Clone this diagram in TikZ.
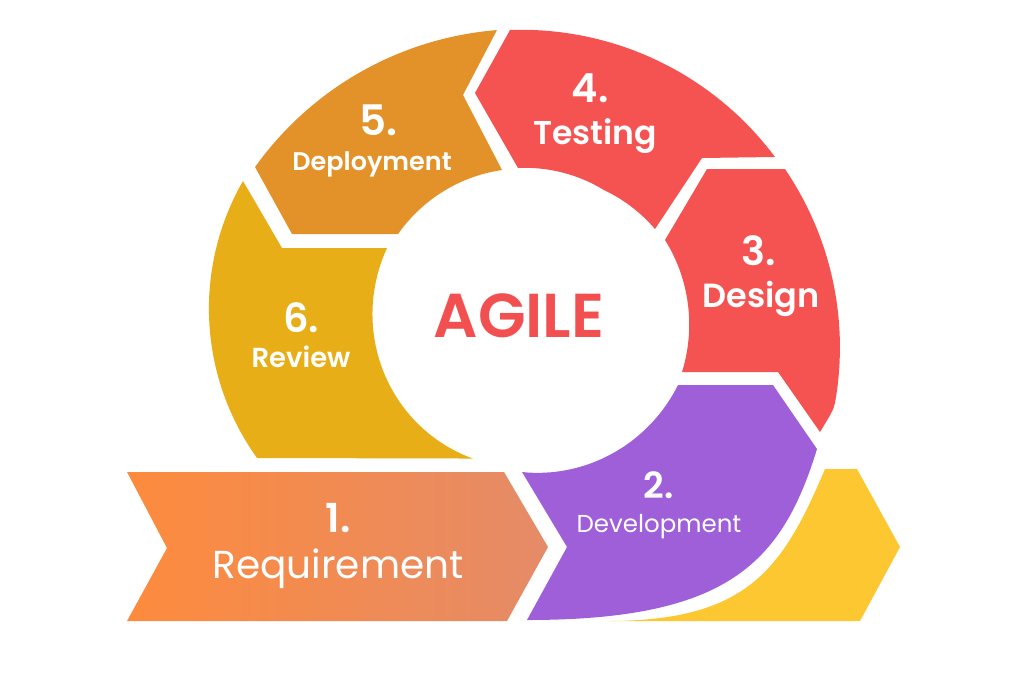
\documentclass[tikz,border=0pt]{standalone}
\usepackage{fontspec}
\setmainfont{Poppins}[BoldFont={Poppins SemiBold}]
\usepackage{tikz}
\definecolor{reqA}{HTML}{FD8B3D}
\definecolor{reqB}{HTML}{E58B68}
\definecolor{devC}{HTML}{9E5FD8}
\definecolor{redC}{HTML}{F55252}
\definecolor{depC}{HTML}{E3922A}
\definecolor{revC}{HTML}{E8AE17}
\definecolor{sunC}{HTML}{FDC731}
\definecolor{agileC}{HTML}{F25050}
% arc round (#1,#2) from angle #3 to #4, radius going from #5 to #6
\newcommand{\ringarc}[6]{-- plot[domain=#3:#4, samples=40]
  ({#1+(#5+((#6)-(#5))*(\x-(#3))/((#4)-(#3)))*cos(\x)},
   {#2+(#5+((#6)-(#5))*(\x-(#3))/((#4)-(#3)))*sin(\x)})}
\tikzset{
  num/.style={anchor=base, text=white, font=\fontsize{40}{40}\selectfont\bfseries},
  lbl/.style={anchor=base, text=white, font=\fontsize{#1}{#1}\selectfont\bfseries},
  lblthin/.style={anchor=base, text=white, font=\fontsize{#1}{#1}\selectfont}
}

\begin{document}
\begin{tikzpicture}[x=1pt, y=-1pt]
  \useasboundingbox (0,0) rectangle (1024,683);
  % 1. Requirement
  \shade[left color=reqA, right color=reqB]
    (127,472) -- (504,472) -- (548,547) -- (507,621) -- (127,621) -- (167,548) -- cycle;
  % 2. Development
  \fill[devC] (522,472) -- (567,547) -- (527,620)
    .. controls (727,620) and (781.7,563.7) .. (817,449)
    -- (773,385) -- (678,385)
    \ringarc{529}{320}{23.57}{92.64}{162.6}{152.2} -- cycle;
  % yellow tail
  \fill[sunC] (607,621) -- (860,621) -- (900,547) -- (857,469) -- (825,469)
    .. controls (782.1,570.2) and (747,621) .. (607,621) -- cycle;
  % 3. Design
  \fill[redC] (665,240) -- (707,169) -- (785,169)
    \ringarc{523}{347}{-34.19}{9}{316.7}{317}
    .. controls (834,409) .. (820,432)
    -- (778,372) -- (682,372)
    \ringarc{529}{320}{18.77}{-30.47}{161.6}{157.8} -- cycle;
  % 4. Testing
  \fill[redC] (518,168) -- (475,93) -- (510,30)
    \ringarc{523}{347}{-92.35}{-37.02}{317.3}{315.6}
    -- (702,158) -- (655,229)
    \ringarc{529}{320}{-35.84}{-60}{155.4}{150}
    \ringarc{529}{320}{-60}{-94.14}{150}{152.4} -- cycle;
  % 5. Deployment
  \fill[depC] (497,30) -- (463,95) -- (502,170)
    \ringarc{529}{320}{-100.2}{-146.71}{152.4}{156.7}
    -- (292,234) -- (255,167)
    \ringarc{523.3}{358.7}{-144.45}{-94.57}{329.7}{329.7} -- cycle;
  % 6. Review
  \fill[revC] (243,181) -- (282,248) -- (387,248)
    \ringarc{529}{320}{206.89}{112.09}{159.2}{149.5}
    -- (257,458)
    \ringarc{464.9}{308.6}{144.3}{209.9}{256}{256} -- cycle;

  % labels
  \node[num] (n1) at (338,532) {1.};
  \node[lblthin=39] (req) at (338,578) {Requirement};
  \node[num, font=\fontsize{36}{36}\selectfont\bfseries] (n2) at (659,498) {2.};
  \node[lblthin=24.5] (dev) at (659,532) {Development};
  \node[num] (n3) at (759,265) {3.};
  \node[lbl=33.5] (des) at (761,307) {Design};
  \node[num] (n4) at (590,102) {4.};
  \node[lbl=33] (tes) at (595,144) {Testing};
  \node[num, font=\fontsize{42}{42}\selectfont\bfseries] (n5) at (378,135) {5.};
  \node[lbl=25.5] (dep) at (372,170) {Deployment};
  \node[num] (n6) at (301,332) {6.};
  \node[lbl=27.5] (rev) at (301,367) {Review};
  \node[anchor=base, text=agileC, font=\fontsize{62}{62}\selectfont\bfseries] (agile) at (519,337) {AGILE};
\end{tikzpicture}
\end{document}
